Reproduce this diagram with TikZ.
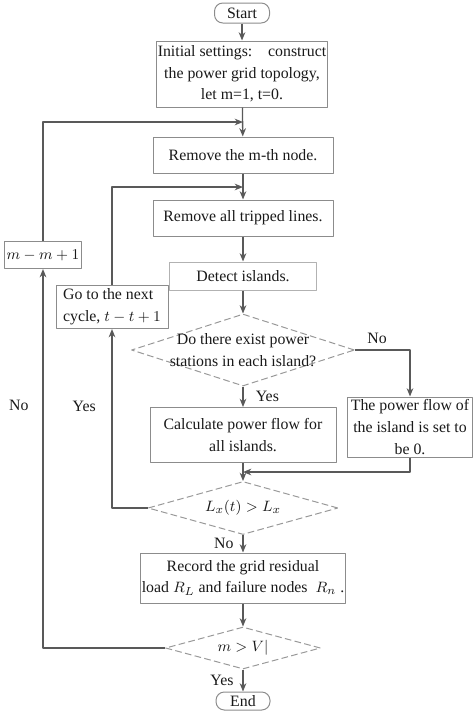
\documentclass[tikz,border=0pt]{standalone}
\usepackage{fontspec}
\setmainfont{Liberation Serif}
\usetikzlibrary{shapes.geometric,arrows.meta}
\begin{document}
\begin{tikzpicture}[x=.6pt,y=-.6pt,>={Stealth[length=5pt,width=4pt]},line join=round,
 font=\fontsize{9.5}{13}\selectfont,
 box/.style={draw=black!45,line width=.6pt,inner sep=1pt,align=center,text=black!90},
 term/.style={box,rounded corners=5pt,minimum width=33pt,minimum height=12pt},
 dec/.style={diamond,draw=black!40,dash pattern=on 4pt off 2pt,line width=.6pt,inner sep=-20pt,align=center,text=black!90},
 link/.style={->,draw=black!65,line width=.8pt},
 lab/.style={text=black!90}]
 \useasboundingbox (0,0) rectangle (474,717);
 \node[term] (start) at (242,13) {Start};
 \node[box,minimum width=102pt,minimum height=39.6pt] (init) at (242,74)
 {Initial settings:\quad construct\\the power grid topology,\\let m=1, t=0.};
 \node[box,minimum width=108pt,minimum height=21.6pt] (rmnode) at (243,155) {Remove the m-th node.};
 \node[box,minimum width=108pt,minimum height=21.6pt] (trip) at (243,218) {Remove all tripped lines.};
 \node[box,draw=black!30,minimum width=88.2pt,minimum height=16.8pt] (detect) at (243,276) {Detect islands.};
 \node[box,minimum width=46.2pt,minimum height=16.2pt] (mbox) at (43,255) {$m - m + 1$};
 \node[box,align=left,minimum width=67.2pt,minimum height=25.8pt] (go) at (112,307) {Go to the next\\cycle, $t - t + 1$};
 \node[dec,minimum width=133.8pt,minimum height=43.2pt] (d1) at (243,350) {Do there exist power\\stations in each island?};
 \node[box,minimum width=75pt,minimum height=36pt] (flow) at (410,427) {The power flow of\\the island is set to\\be 0.};
 \node[box,minimum width=111.6pt,minimum height=33pt] (calc) at (243,435) {Calculate power flow for\\all islands.};
 \node[dec,minimum width=114pt,minimum height=31.8pt] (d2) at (243,508) {$L_x(t) > L_x$};
 \node[box,minimum width=121.8pt,minimum height=30pt] (rec) at (243,578) {Record the grid residual\\load $R_L$ and failure nodes\ \ $R_n$ .};
 \node[dec,minimum width=93pt,minimum height=25.2pt] (d3) at (243,648) {$m > V|$};
 \node[term,minimum width=32.4pt,minimum height=10.8pt] (end) at (243,701) {End};
 \coordinate (j1) at (243,122);
 \coordinate (j2) at (243,187);
 \coordinate (j3) at (243,472);
 \draw[link] (start) -- (init);
 \draw[link] (init) -- (rmnode);
 \draw[link] (mbox) |- (j1);
 \draw[link] (rmnode) -- (trip);
 \draw[link] (go) |- (j2);
 \draw[link] (trip) -- (detect);
 \draw[link] (detect) -- (d1);
 \draw[link] (d1) -- node[lab,right=4pt]{Yes} (calc);
 \draw[link] (d1.east) -| node[lab,pos=.2,above]{No} (flow.north);
 \draw[link] (flow.south) |- (j3);
 \draw[link] (calc) -- (d2);
 \draw[link] (d2.west) -| node[lab,pos=.785,left=6pt]{Yes} (go.south);
 \draw[link] (d2) -- node[lab,left=2pt]{No} (rec);
 \draw[link] (rec) -- (d3);
 \draw[link] (d3.west) -| node[lab,pos=.82,left=5pt]{No} (mbox.south);
 \draw[link] (d3) -- node[lab,left=2pt]{Yes} (end);
\end{tikzpicture}
\end{document}
